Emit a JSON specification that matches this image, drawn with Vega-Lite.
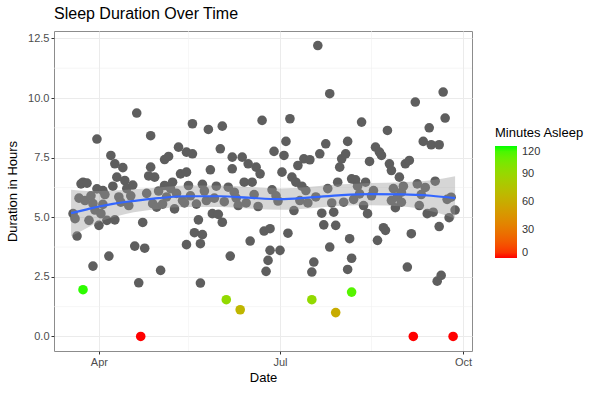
{
  "$schema": "https://vega.github.io/schema/vega-lite/v6.json",
  "autosize": {"type": "none"},
  "padding": {"left": 54, "top": 31, "right": 136, "bottom": 43},
  "width": 418,
  "height": 320,
  "title": {"text": "Sleep Duration Over Time", "anchor": "start", "frame": "group", "fontSize": 16, "fontWeight": "normal", "color": "black", "offset": 9},
  "config": {
    "font": "Liberation Sans",
    "view": {"stroke": "#8c8c8c", "strokeWidth": 1},
    "axis": {"labelColor": "#4d4d4d", "labelFontSize": 11, "titleFontSize": 13, "titleFontWeight": "normal", "titleColor": "black", "tickColor": "#333333", "tickSize": 3, "gridColor": "#ebebeb", "gridWidth": 1, "domain": false, "labelPadding": 2}
  },
  "datasets": {
    "sleep": [
      {"date":"2017-03-19","hours":5.15},{"date":"2017-03-20","hours":4.94},{"date":"2017-03-21","hours":4.21},{"date":"2017-03-22","hours":5.8},{"date":"2017-03-23","hours":6.4},{"date":"2017-03-24","hours":6.47},{"date":"2017-03-24","hours":1.96},{"date":"2017-03-25","hours":5.7},{"date":"2017-03-26","hours":6.43},{"date":"2017-03-27","hours":4.87},{"date":"2017-03-28","hours":5.9},{"date":"2017-03-29","hours":5.57},{"date":"2017-03-29","hours":2.95},{"date":"2017-03-30","hours":5.3},{"date":"2017-03-31","hours":8.28},{"date":"2017-03-31","hours":6.19},
      {"date":"2017-04-01","hours":4.66},{"date":"2017-04-02","hours":5.15},{"date":"2017-04-03","hours":6.12},{"date":"2017-04-03","hours":5.54},{"date":"2017-04-04","hours":5.95},{"date":"2017-04-05","hours":4.87},{"date":"2017-04-06","hours":3.37},{"date":"2017-04-07","hours":7.59},{"date":"2017-04-08","hours":6.3},{"date":"2017-04-09","hours":7.24},{"date":"2017-04-09","hours":4.89},{"date":"2017-04-10","hours":6.68},{"date":"2017-04-11","hours":5.85},{"date":"2017-04-12","hours":5.63},{"date":"2017-04-13","hours":7.08},{"date":"2017-04-14","hours":6.54},{"date":"2017-04-15","hours":6.2},{"date":"2017-04-16","hours":5.49},{"date":"2017-04-17","hours":5.9},{"date":"2017-04-18","hours":6.35},{"date":"2017-04-19","hours":3.79},{"date":"2017-04-20","hours":9.37},{"date":"2017-04-21","hours":2.25},{"date":"2017-04-22","hours":0},{"date":"2017-04-23","hours":4.78},{"date":"2017-04-24","hours":3.7},{"date":"2017-04-25","hours":6.0},{"date":"2017-04-26","hours":6.73},{"date":"2017-04-27","hours":8.42},{"date":"2017-04-27","hours":7.1},{"date":"2017-04-28","hours":5.57},{"date":"2017-04-29","hours":6.68},{"date":"2017-04-30","hours":5.42},
      {"date":"2017-05-01","hours":6.1},{"date":"2017-05-02","hours":2.77},{"date":"2017-05-03","hours":5.55},{"date":"2017-05-04","hours":7.42},{"date":"2017-05-04","hours":6.33},{"date":"2017-05-05","hours":5.85},{"date":"2017-05-06","hours":7.55},{"date":"2017-05-07","hours":6.2},{"date":"2017-05-08","hours":6.47},{"date":"2017-05-09","hours":5.35},{"date":"2017-05-10","hours":6.0},{"date":"2017-05-11","hours":7.94},{"date":"2017-05-12","hours":6.82},{"date":"2017-05-13","hours":5.7},{"date":"2017-05-14","hours":5.6},{"date":"2017-05-15","hours":7.73},{"date":"2017-05-15","hours":6.89},{"date":"2017-05-15","hours":3.85},{"date":"2017-05-16","hours":6.33},{"date":"2017-05-17","hours":5.9},{"date":"2017-05-18","hours":8.92},{"date":"2017-05-18","hours":7.66},{"date":"2017-05-19","hours":4.35},{"date":"2017-05-20","hours":5.55},{"date":"2017-05-21","hours":4.89},{"date":"2017-05-22","hours":3.89},{"date":"2017-05-22","hours":2.24},{"date":"2017-05-23","hours":6.38},{"date":"2017-05-23","hours":4.27},{"date":"2017-05-24","hours":6.1},{"date":"2017-05-25","hours":5.7},{"date":"2017-05-26","hours":8.68},{"date":"2017-05-27","hours":6.99},{"date":"2017-05-28","hours":5.15},{"date":"2017-05-29","hours":5.8},{"date":"2017-05-30","hours":6.3},{"date":"2017-05-31","hours":5.12},
      {"date":"2017-06-01","hours":7.87},{"date":"2017-06-02","hours":8.82},{"date":"2017-06-02","hours":4.79},{"date":"2017-06-03","hours":5.65},{"date":"2017-06-04","hours":1.54},{"date":"2017-06-05","hours":6.26},{"date":"2017-06-06","hours":3.37},{"date":"2017-06-07","hours":7.52},{"date":"2017-06-07","hours":7.03},{"date":"2017-06-08","hours":6.05},{"date":"2017-06-09","hours":5.8},{"date":"2017-06-10","hours":5.49},{"date":"2017-06-11","hours":1.12},{"date":"2017-06-12","hours":7.52},{"date":"2017-06-13","hours":6.47},{"date":"2017-06-14","hours":5.6},{"date":"2017-06-15","hours":7.24},{"date":"2017-06-16","hours":4.0},{"date":"2017-06-17","hours":6.47},{"date":"2017-06-18","hours":5.95},{"date":"2017-06-19","hours":7.1},{"date":"2017-06-20","hours":5.45},{"date":"2017-06-21","hours":6.82},{"date":"2017-06-22","hours":9.06},{"date":"2017-06-23","hours":4.42},{"date":"2017-06-24","hours":2.73},{"date":"2017-06-25","hours":3.19},{"date":"2017-06-26","hours":4.52},{"date":"2017-06-26","hours":3.61},{"date":"2017-06-27","hours":6.15},{"date":"2017-06-28","hours":7.76},{"date":"2017-06-29","hours":5.9},{"date":"2017-06-30","hours":5.68},
      {"date":"2017-07-01","hours":3.61},{"date":"2017-07-02","hours":6.89},{"date":"2017-07-03","hours":7.59},{"date":"2017-07-04","hours":8.18},{"date":"2017-07-05","hours":4.33},{"date":"2017-07-06","hours":9.13},{"date":"2017-07-07","hours":6.68},{"date":"2017-07-08","hours":5.28},{"date":"2017-07-09","hours":6.47},{"date":"2017-07-10","hours":7.17},{"date":"2017-07-11","hours":5.7},{"date":"2017-07-12","hours":6.3},{"date":"2017-07-13","hours":7.45},{"date":"2017-07-14","hours":6.12},{"date":"2017-07-15","hours":5.6},{"date":"2017-07-16","hours":7.41},{"date":"2017-07-17","hours":2.7},{"date":"2017-07-17","hours":1.54},{"date":"2017-07-18","hours":3.12},{"date":"2017-07-19","hours":5.85},{"date":"2017-07-20","hours":12.2},{"date":"2017-07-21","hours":7.66},{"date":"2017-07-22","hours":5.17},{"date":"2017-07-23","hours":4.68},{"date":"2017-07-24","hours":8.08},{"date":"2017-07-25","hours":6.2},{"date":"2017-07-26","hours":10.18},{"date":"2017-07-26","hours":3.75},{"date":"2017-07-27","hours":5.6},{"date":"2017-07-28","hours":5.21},{"date":"2017-07-29","hours":4.66},{"date":"2017-07-29","hours":1.0},{"date":"2017-07-30","hours":6.47},{"date":"2017-07-31","hours":7.1},
      {"date":"2017-08-01","hours":7.45},{"date":"2017-08-02","hours":5.63},{"date":"2017-08-03","hours":7.66},{"date":"2017-08-04","hours":8.18},{"date":"2017-08-04","hours":2.81},{"date":"2017-08-05","hours":4.1},{"date":"2017-08-06","hours":3.28},{"date":"2017-08-06","hours":6.61},{"date":"2017-08-06","hours":1.86},{"date":"2017-08-07","hours":5.75},{"date":"2017-08-08","hours":6.57},{"date":"2017-08-09","hours":6.3},{"date":"2017-08-10","hours":5.98},{"date":"2017-08-11","hours":8.99},{"date":"2017-08-12","hours":5.49},{"date":"2017-08-13","hours":6.47},{"date":"2017-08-14","hours":5.15},{"date":"2017-08-15","hours":7.34},{"date":"2017-08-16","hours":5.9},{"date":"2017-08-17","hours":6.12},{"date":"2017-08-18","hours":7.94},{"date":"2017-08-19","hours":4.03},{"date":"2017-08-20","hours":7.73},{"date":"2017-08-21","hours":7.59},{"date":"2017-08-22","hours":4.56},{"date":"2017-08-23","hours":4.45},{"date":"2017-08-24","hours":8.64},{"date":"2017-08-25","hours":7.24},{"date":"2017-08-26","hours":6.96},{"date":"2017-08-26","hours":5.7},{"date":"2017-08-27","hours":6.2},{"date":"2017-08-28","hours":5.4},{"date":"2017-08-29","hours":5.85},{"date":"2017-08-30","hours":6.68},{"date":"2017-08-31","hours":6.05},{"date":"2017-08-31","hours":5.63},
      {"date":"2017-09-01","hours":6.3},{"date":"2017-09-02","hours":7.24},{"date":"2017-09-03","hours":2.91},{"date":"2017-09-04","hours":7.38},{"date":"2017-09-05","hours":4.31},{"date":"2017-09-06","hours":0},{"date":"2017-09-07","hours":9.83},{"date":"2017-09-08","hours":6.4},{"date":"2017-09-09","hours":5.49},{"date":"2017-09-10","hours":5.95},{"date":"2017-09-11","hours":8.18},{"date":"2017-09-12","hours":6.25},{"date":"2017-09-13","hours":5.15},{"date":"2017-09-14","hours":8.75},{"date":"2017-09-15","hours":8.04},{"date":"2017-09-16","hours":5.21},{"date":"2017-09-17","hours":6.51},{"date":"2017-09-18","hours":2.32},{"date":"2017-09-19","hours":8.04},{"date":"2017-09-19","hours":4.61},{"date":"2017-09-20","hours":2.56},{"date":"2017-09-21","hours":10.25},{"date":"2017-09-22","hours":9.16},{"date":"2017-09-23","hours":5.75},{"date":"2017-09-24","hours":4.98},{"date":"2017-09-25","hours":5.84},{"date":"2017-09-26","hours":0},{"date":"2017-09-27","hours":5.3}
    ],
    "smooth": [
      {"date":"2017-03-18","fit":5.17,"lo":4.2,"hi":6.15},
      {"date":"2017-03-26","fit":5.33,"lo":4.55,"hi":6.1},
      {"date":"2017-04-01","fit":5.45,"lo":4.8,"hi":6.1},
      {"date":"2017-04-08","fit":5.56,"lo":5.0,"hi":6.12},
      {"date":"2017-04-15","fit":5.65,"lo":5.15,"hi":6.15},
      {"date":"2017-04-22","fit":5.72,"lo":5.25,"hi":6.19},
      {"date":"2017-05-01","fit":5.8,"lo":5.35,"hi":6.25},
      {"date":"2017-05-15","fit":5.88,"lo":5.43,"hi":6.33},
      {"date":"2017-06-01","fit":5.88,"lo":5.43,"hi":6.33},
      {"date":"2017-06-15","fit":5.82,"lo":5.37,"hi":6.27},
      {"date":"2017-07-01","fit":5.76,"lo":5.31,"hi":6.21},
      {"date":"2017-07-15","fit":5.82,"lo":5.37,"hi":6.27},
      {"date":"2017-08-01","fit":5.93,"lo":5.48,"hi":6.38},
      {"date":"2017-08-15","fit":5.97,"lo":5.5,"hi":6.44},
      {"date":"2017-09-01","fit":5.96,"lo":5.45,"hi":6.47},
      {"date":"2017-09-15","fit":5.9,"lo":5.25,"hi":6.55},
      {"date":"2017-09-27","fit":5.8,"lo":4.95,"hi":6.72}
    ],
    "ygrid": [{"v":1.25},{"v":3.75},{"v":6.25},{"v":8.75},{"v":11.25}],
    "xgrid": [{"d":"2017-05-16"},{"d":"2017-08-16"}]
  },
  "layer": [
    {
      "data": {"name": "ygrid"},
      "mark": {"type": "rule", "color": "#f0f0f0", "strokeWidth": 0.6},
      "encoding": {"y": {"field": "v", "type": "quantitative"}}
    },
    {
      "data": {"name": "xgrid"},
      "mark": {"type": "rule", "color": "#f0f0f0", "strokeWidth": 0.6},
      "encoding": {"x": {"field": "d", "type": "temporal"}}
    },
    {
      "data": {"name": "sleep"},
      "mark": {"type": "point", "filled": true, "opacity": 1, "size": 92},
      "encoding": {
        "x": {"field": "date", "type": "temporal", "title": "Date",
              "scale": {"domain": [{"year": 2017, "month": 3, "date": 9, "hours": 10}, {"year": 2017, "month": 10, "date": 5, "hours": 12}], "nice": false},
              "axis": {"values": [{"year": 2017, "month": 4, "date": 1}, {"year": 2017, "month": 7, "date": 1}, {"year": 2017, "month": 10, "date": 1}], "format": "%b", "grid": true, "titlePadding": 4}},
        "y": {"field": "hours", "type": "quantitative", "title": "Duration in Hours",
              "scale": {"domain": [-0.61, 12.81], "nice": false, "zero": false},
              "axis": {"values": [0, 2.5, 5, 7.5, 10, 12.5], "format": ".1f", "grid": true, "titlePadding": 8}},
        "color": {
          "condition": {"test": "datum.hours > 2.1", "value": "#5e5e5e"},
          "field": "hours", "type": "quantitative",
          "scale": {"domain": [0, 2], "range": ["#ff0000", "#00ff00"], "interpolate": "lab"},
          "legend": {"title": "Minutes Asleep", "values": [0, 0.5, 1, 1.5, 2], "labelExpr": "format(datum.value*60, 'd')",
                     "orient": "none", "legendX": 441, "legendY": 96, "gradientLength": 112, "gradientThickness": 22,
                     "titleFontSize": 13, "titleFontWeight": "normal", "titleColor": "black", "labelFontSize": 11, "labelColor": "#333333", "titlePadding": 6, "labelOffset": 5}
        }
      }
    },
    {
      "data": {"name": "smooth"},
      "mark": {"type": "area", "color": "#999999", "opacity": 0.4, "interpolate": "monotone"},
      "encoding": {
        "x": {"field": "date", "type": "temporal"},
        "y": {"field": "lo", "type": "quantitative"},
        "y2": {"field": "hi"}
      }
    },
    {
      "data": {"name": "smooth"},
      "mark": {"type": "line", "color": "#3366FF", "strokeWidth": 2.2, "interpolate": "monotone"},
      "encoding": {
        "x": {"field": "date", "type": "temporal"},
        "y": {"field": "fit", "type": "quantitative"}
      }
    }
  ]
}
